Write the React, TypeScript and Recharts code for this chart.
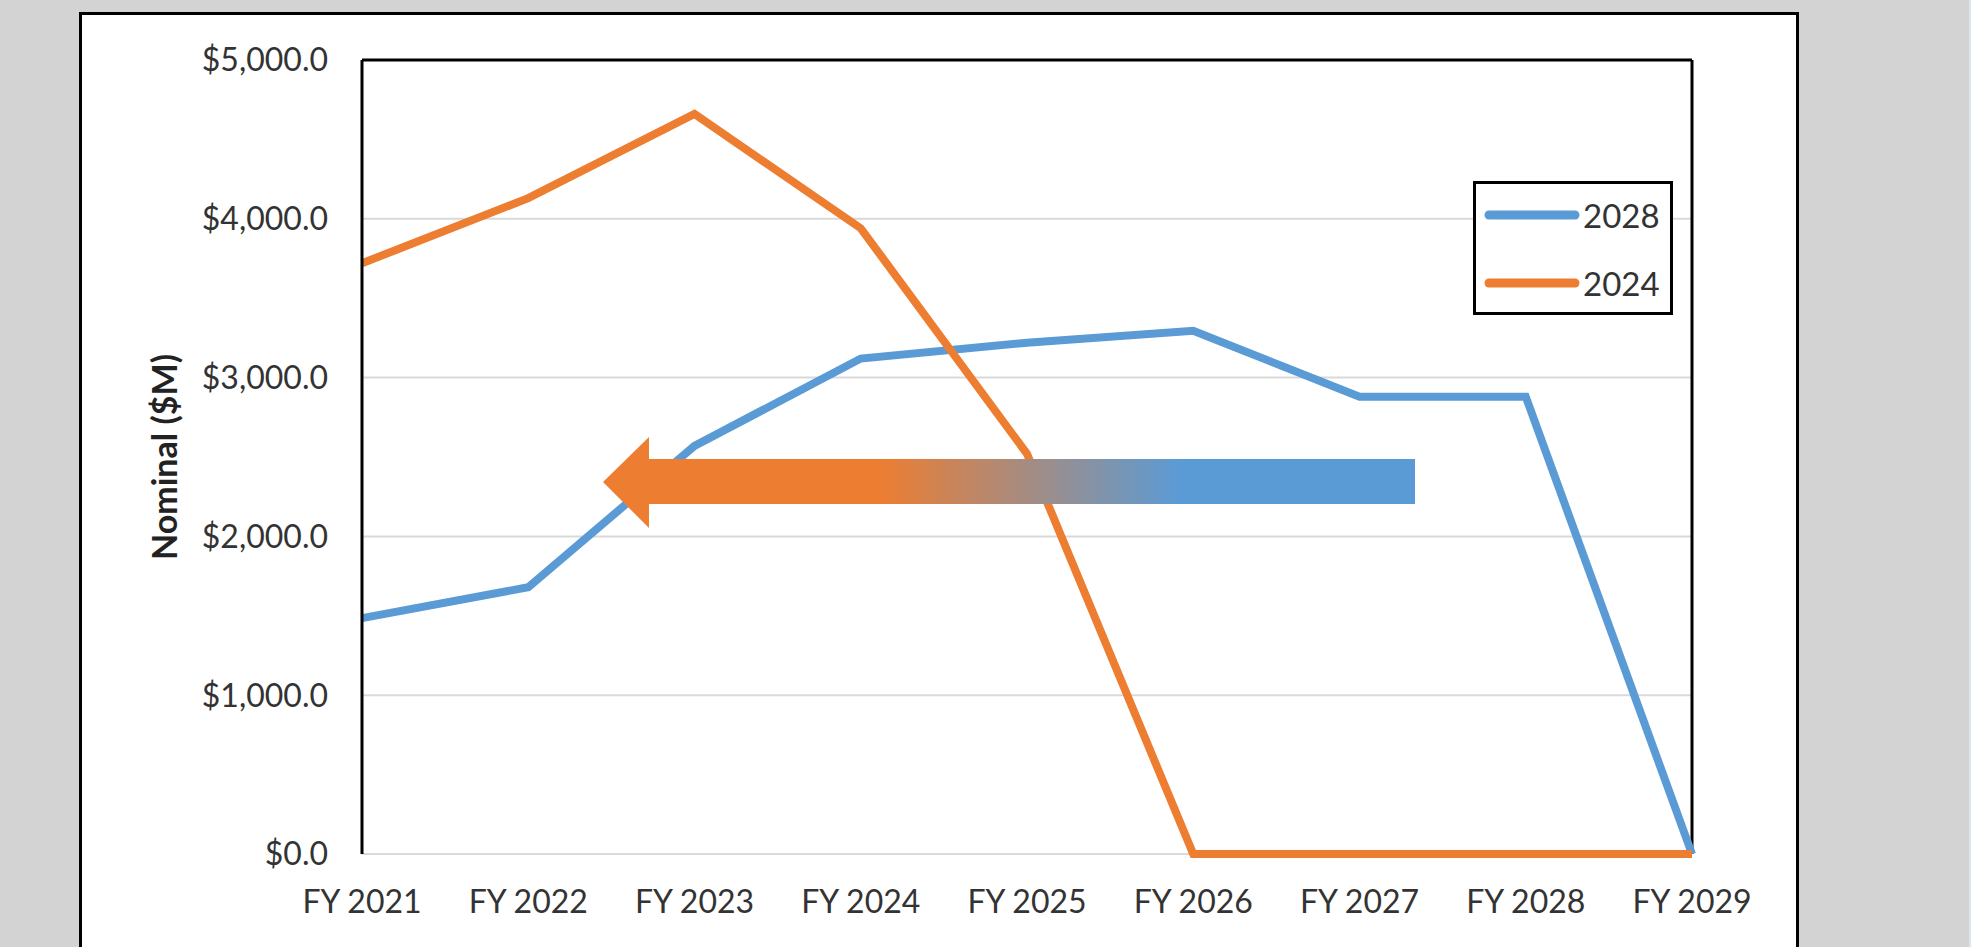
import React from 'react';
import {
  LineChart,
  Line,
  XAxis,
  YAxis,
  CartesianGrid,
  Legend,
  ReferenceLine,
} from 'recharts';

// categories on the x axis
const categories = [
  'FY 2021',
  'FY 2022',
  'FY 2023',
  'FY 2024',
  'FY 2025',
  'FY 2026',
  'FY 2027',
  'FY 2028',
  'FY 2029',
];

// nominal $M per fiscal year
const values2028 = [1485, 1680, 2570, 3120, 3220, 3295, 2880, 2880, 0];
const values2024 = [3720, 4130, 4660, 3940, 2520, 0, 0, 0, 0];

const seriesNames = ['2028', '2024'];

const yTicks = [0, 1000, 2000, 3000, 4000, 5000];

const BLUE = '#5b9bd5';
const ORANGE = '#ed7d31';
const FONT = 'Lato, "Open Sans", sans-serif';
const TEXT = '#333333';

const data = categories.map((year, i) => ({
  year,
  s2028: values2028[i],
  s2024: values2024[i],
}));

const money = (v: number) =>
  `$${v.toLocaleString('en-US', { minimumFractionDigits: 1, maximumFractionDigits: 1 })}`;

function YTitle(props: any) {
  const vb = props.viewBox || { x: 0, y: 0, width: 0, height: 0 };
  const cx = vb.x + 163;
  const cy = vb.y + vb.height / 2;
  return (
    <text
      x={cx}
      y={cy}
      transform={`rotate(-90, ${cx}, ${cy})`}
      textAnchor='middle'
      dominantBaseline='central'
      fontFamily={FONT}
      fontSize={34}
      fontWeight={700}
      fill='#222'
    >
      Nominal ($M)
    </text>
  );
}

function LegendBox({ payload }: any) {
  // keep the series order (legend sorts by name otherwise)
  const items = [...(payload || [])].sort(
    (a: any, b: any) => seriesNames.indexOf(a.value) - seriesNames.indexOf(b.value)
  );

  return (
    <div
      style={{
        position: 'relative',
        width: 200,
        height: 134,
        boxSizing: 'border-box',
        border: '3px solid #000',
        background: '#fff',
        fontFamily: FONT,
      }}
    >
      {items.map((entry: any, i: number) => (
        <div
          key={entry.value}
          style={{
            position: 'absolute',
            left: 7,
            top: 11 + i * 68,
            height: 40,
            display: 'flex',
            alignItems: 'center',
          }}
        >
          <svg width={98} height={12}>
            <line
              x1={6}
              x2={92}
              y1={6}
              y2={6}
              stroke={entry.color}
              strokeWidth={9}
              strokeLinecap='round'
            />
          </svg>
          <span style={{ fontSize: 33, color: TEXT, marginLeft: 2 }}>{entry.value}</span>
        </div>
      ))}
    </div>
  );
}

export default function App() {
  return (
    <div
      style={{
        position: 'absolute',
        left: 0,
        top: 0,
        width: 1971,
        height: 947,
        overflow: 'hidden',
        background: '#d3d3d3',
      }}
    >
      {/* chart frame */}
      <div
        style={{
          position: 'absolute',
          left: 79,
          top: 12,
          width: 1720,
          height: 1000,
          boxSizing: 'border-box',
          border: '3px solid #000',
          background: '#fff',
        }}
      />

      {/* window edge */}
      <div
        style={{
          position: 'absolute',
          left: 1969,
          top: 0,
          width: 2,
          height: 947,
          background: '#dbe6ef',
        }}
      />

      <div style={{ position: 'absolute', left: 0, top: 0 }}>
        <LineChart
          width={1971}
          height={947}
          data={data}
          margin={{ top: 60, right: 279, bottom: 0, left: 0 }}
        >
          <CartesianGrid
            horizontal
            vertical={false}
            stroke='#d9d9d9'
            strokeWidth={2}
          />

          <XAxis
            dataKey='year'
            height={93}
            interval={0}
            tickLine={false}
            tickSize={6}
            tickMargin={30}
            axisLine={false}
            tick={{ fontFamily: FONT, fontSize: 32, fill: TEXT }}
          />

          <YAxis
            width={362}
            domain={[0, 5000]}
            ticks={yTicks}
            interval={0}
            tickLine={false}
            tickSize={6}
            tickMargin={28}
            tickFormatter={money}
            axisLine={{ stroke: '#000', strokeWidth: 3 }}
            tick={{ fontFamily: FONT, fontSize: 32, fill: TEXT }}
            label={<YTitle />}
          />

          {/* plot area border, top and right */}
          <ReferenceLine y={5000} stroke='#000' strokeWidth={3} />
          <ReferenceLine x='FY 2029' stroke='#000' strokeWidth={3} />

          <Line
            name='2028'
            dataKey='s2028'
            type='linear'
            stroke={BLUE}
            strokeWidth={8}
            dot={false}
            activeDot={false}
            isAnimationActive={false}
          />

          <Line
            name='2024'
            dataKey='s2024'
            type='linear'
            stroke={ORANGE}
            strokeWidth={8}
            dot={false}
            activeDot={false}
            isAnimationActive={false}
          />

          <Legend
            layout='vertical'
            align='center'
            verticalAlign='middle'
            content={<LegendBox />}
            wrapperStyle={{ left: 1473, top: 181, width: 200, height: 134 }}
          />
        </LineChart>
      </div>

      {/* shift arrow annotation */}
      <svg
        width={1971}
        height={947}
        style={{ position: 'absolute', left: 0, top: 0, pointerEvents: 'none' }}
      >
        <defs>
          <linearGradient id='shiftGrad' x1='0' y1='0' x2='1' y2='0'>
            <stop offset='0.34' stopColor={ORANGE} />
            <stop offset='0.71' stopColor={BLUE} />
          </linearGradient>
        </defs>
        <polygon
          points='603,482 649,437 649,459 1415,459 1415,504 649,504 649,528'
          fill='url(#shiftGrad)'
        />
      </svg>
    </div>
  );
}
